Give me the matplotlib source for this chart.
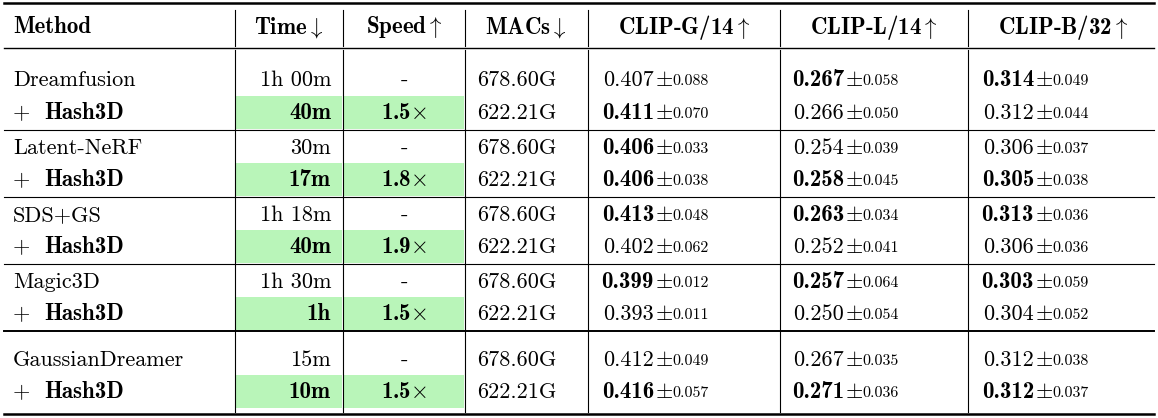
import matplotlib.pyplot as plt
from matplotlib.patches import Rectangle

plt.rcParams['mathtext.fontset'] = 'cm'

methods = ["Dreamfusion", "Latent-NeRF", "SDS+GS", "Magic3D", "GaussianDreamer"]
times = [["1h 00m", "40m"], ["30m", "17m"], ["1h 18m", "40m"], ["1h 30m", "1h"], ["15m", "10m"]]
speeds = ["1.5", "1.8", "1.9", "1.5", "1.5"]
macs = ["678.60G", "622.21G"]
# (mean, std, bold) per row pair, for CLIP-G, CLIP-L, CLIP-B
clip = [
    [[("0.407", "0.088", 0), ("0.411", "0.070", 1)], [("0.267", "0.058", 1), ("0.266", "0.050", 0)], [("0.314", "0.049", 1), ("0.312", "0.044", 0)]],
    [[("0.406", "0.033", 1), ("0.406", "0.038", 1)], [("0.254", "0.039", 0), ("0.258", "0.045", 1)], [("0.306", "0.037", 0), ("0.305", "0.038", 1)]],
    [[("0.413", "0.048", 1), ("0.402", "0.062", 0)], [("0.263", "0.034", 1), ("0.252", "0.041", 0)], [("0.313", "0.036", 1), ("0.306", "0.036", 0)]],
    [[("0.399", "0.012", 1), ("0.393", "0.011", 0)], [("0.257", "0.064", 1), ("0.250", "0.054", 0)], [("0.303", "0.059", 1), ("0.304", "0.052", 0)]],
    [[("0.412", "0.049", 0), ("0.416", "0.057", 1)], [("0.267", "0.035", 0), ("0.271", "0.036", 1)], [("0.312", "0.038", 0), ("0.312", "0.037", 1)]],
]
headers = [r"Time$\downarrow$", r"Speed$\uparrow$", r"MACs$\downarrow$",
           r"CLIP-G/14$\uparrow$", r"CLIP-L/14$\uparrow$", r"CLIP-B/32$\uparrow$"]

fig = plt.figure(figsize=(11.58, 4.18), dpi=100)
ax = fig.add_axes([0, 0, 1, 1])
ax.set_xlim(0, 1158)
ax.set_ylim(418, 0)
ax.axis('off')

fs, fb, small = 16, 16.5, 11.5
green = '#b9f5b9'
vx = [235, 343, 465, 588, 780, 968]

# rules
ax.plot([4, 1154], [3, 3], color='black', lw=1.8)
ax.plot([4, 1154], [48, 48], color='black', lw=1.0)
ax.plot([4, 1154], [414, 414], color='black', lw=1.8)
for x in vx:
    ax.plot([x, x], [10, 46], color='black', lw=0.8)
    ax.plot([x, x], [50, 412], color='black', lw=0.8)

ax.text(13, 27, "Method", fontfamily='cmb10', fontsize=fb, va='center')
hx = [289, 404, 526, 684, 874, 1063]
for x, h in zip(hx, headers):
    ax.text(x, 27, h, fontfamily='cmb10', fontsize=fb, va='center', ha='center')

row_y = [(80, 113), (148, 180), (215, 247), (282, 314), (360, 392)]
seps = [130, 197, 264, 331]
for s in seps:
    ax.plot([4, 1154], [s, s], color='black', lw=0.8 if s != 331 else 1.4)

anchors = [669, 859, 1049]
for i, m in enumerate(methods):
    y0, y1 = row_y[i]
    top = y1 - 17
    ax.add_patch(Rectangle((236, top), 106, 33, color=green, lw=0))
    ax.add_patch(Rectangle((344, top), 120, 33, color=green, lw=0))
    ax.text(13, y0, m, fontfamily='cmr10', fontsize=fs, va='center')
    ax.text(13, y1, "+ ", fontfamily='cmr10', fontsize=fs, va='center')
    ax.text(44, y1, "Hash3D", fontfamily='cmb10', fontsize=fb, va='center')
    ax.text(331, y0, times[i][0], fontfamily='cmr10', fontsize=fs, va='center', ha='right')
    ax.text(331, y1, times[i][1], fontfamily='cmb10', fontsize=fb, va='center', ha='right')
    ax.text(404, y0, "-", fontfamily='cmr10', fontsize=fs, va='center', ha='center')
    ax.text(404, y1, speeds[i] + r"$\times$", fontfamily='cmb10', fontsize=fb, va='center', ha='center')
    for y, mc in zip((y0, y1), macs):
        ax.text(477, y, mc, fontfamily='cmr10', fontsize=fs, va='center')
    for c in range(3):
        for y, (mean, std, b) in zip((y0, y1), clip[i][c]):
            ax.text(anchors[c] - 15, y, mean, fontfamily='cmb10' if b else 'cmr10',
                    fontsize=fb if b else fs, va='center', ha='right')
            ax.text(anchors[c] - 14, y, r"$\pm$", fontsize=fs, va='center', ha='left')
            ax.text(anchors[c] + 3, y + 1, std, fontfamily='cmr10', fontsize=small, va='center', ha='left')

fig.savefig("out.png", dpi=100)
